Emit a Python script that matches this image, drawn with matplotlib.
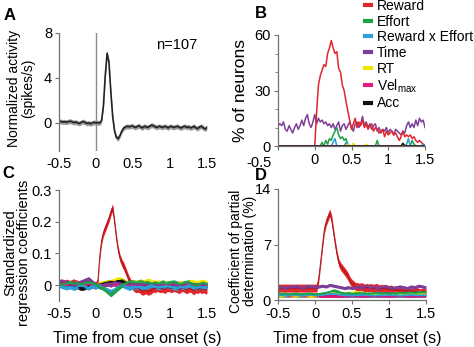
import numpy as np
import matplotlib
matplotlib.use("Agg")
import matplotlib.pyplot as plt
from matplotlib.lines import Line2D
from matplotlib.transforms import ScaledTranslation

plt.rcParams['font.family'] = ['Liberation Sans', 'DejaVu Sans']
plt.rcParams['mathtext.fontset'] = 'custom'
plt.rcParams['mathtext.rm'] = 'Liberation Sans'

# time bases (s from cue onset)
t_fine = np.arange(-0.5, 1.5001, 0.025)    # 81 samples
t_coarse = np.arange(-0.5, 1.5001, 0.05)   # 41 samples

# ---- A: normalized population activity ----
act_a = [0.10, 0.12, 0.08, 0.10, 0.05, 0.12, 0.15, 0.10, 0.02, 0.08,
         0.00, -0.05, 0.05, 0.12, 0.05, -0.05, 0.00, -0.08, 0.00, 0.05,
         0.00, 0.02, 0.00, 0.20, 1.50, 4.20, 6.20, 5.40, 2.80, 0.60,
         -0.70, -1.30, -1.40, -1.10, -0.70, -0.45, -0.35, -0.30, -0.35, -0.28,
         -0.30, -0.40, -0.35, -0.25, -0.35, -0.45, -0.30, -0.35, -0.40, -0.30,
         -0.20, -0.25, -0.35, -0.40, -0.30, -0.35, -0.40, -0.30, -0.35, -0.45,
         -0.30, -0.35, -0.40, -0.35, -0.30, -0.40, -0.45, -0.35, -0.30, -0.40,
         -0.35, -0.45, -0.40, -0.30, -0.45, -0.50, -0.35, -0.30, -0.45, -0.55,
         -0.40]
sem_a = 0.22
n_cells = 107

# ---- B: % of neurons significant for each regressor ----
labels = ['Reward', 'Effort', 'Reward x Effort', 'Time', 'RT',
          'Vel$_{\\mathrm{max}}$', 'Acc']
colors = ['#e3262b', '#1fa04a', '#2a9fd8', '#7e3f98', '#f2e600',
          '#e5197f', '#111111']

pct_reward = [0] * 20 + [
    0, 18, 33, 38, 41, 44, 43, 50, 53, 57,
    53, 50, 51, 42, 40, 33, 30, 24, 19, 14,
    9, 12, 15, 10, 13, 11, 14, 10, 12, 9,
    11, 12, 8, 10, 9, 7, 8, 9, 5, 8,
    6, 7, 8, 6, 7, 5, 3, 5, 8, 5,
    6, 5, 6, 4, 5, 3, 2, 3, 2, 1,
    0]
pct_effort = [0] * 20 + [
    0, 0, 0, 0, 2, 0, 3, 1, 4, 3,
    6, 8, 10, 6, 4, 5, 3, 4, 1, 0,
    0, 0, 0, 0, 0, 0, 0, 0, 0, 0,
    0, 0, 0, 0, 3, 0, 0, 0, 0, 0,
    0, 0, 0, 0, 0, 0, 0, 0, 0, 0,
    0, 0, 0, 3, 1, 0, 0, 0, 0, 0,
    0]
pct_rxe = [0] * 30 + [
    2, 4, 0, 0, 0, 0, 0, 2, 0, 0,
    0, 0, 0, 0, 0, 0, 0, 0, 0, 0,
    0, 0, 0, 0, 0, 0, 0, 0, 0, 0,
    0, 0, 0, 0, 0, 0, 0, 0, 0, 0,
    1, 4, 0, 0, 0, 0, 0, 0, 0, 1,
    0]
pct_time = [11, 12, 11, 13, 9, 8, 11, 9, 7, 10,
            12, 9, 11, 14, 11, 15, 17, 12, 10, 13,
            17, 12, 15, 13, 14, 12, 13, 11, 12, 10,
            12, 9, 11, 13, 8, 11, 12, 9, 11, 13,
            10, 8, 12, 13, 10, 12, 16, 11, 13, 10,
            12, 9, 11, 12, 8, 10, 7, 9, 8, 10,
            7, 9, 8, 6, 9, 8, 7, 6, 8, 7,
            11, 13, 10, 12, 10, 14, 11, 15, 13, 14,
            10]
pct_rt = [0] * 30 + [
    0, 0, 0, 0, 0, 0, 0, 0, 1, 0,
    0, 1.5, 0, 0, 0, 0, 0, 0, 1, 0,
    0, 0, 0, 0, 0, 0, 0, 0, 0, 0,
    0, 0, 0, 0, 0, 0, 0, 0, 0, 0,
    0, 0, 0, 0, 0, 0, 0, 0, 0, 0,
    0]
pct_vel = [0] * 81
pct_acc = [0] * 60 + [
    0, 0, 0, 0, 0, 0, 0, 0, 1.5, 0,
    0, 0, 0, 0, 0, 0, 0, 0, 0, 0,
    0]

# ---- C: standardized regression coefficients ----
beta_reward = [0.005, 0.008, 0.006, 0.004, 0.007, 0.005, 0.003, 0.006, 0.008, 0.005,
               0.004, 0.002, 0.005, 0.006, 0.003, 0.0, -0.003, 0.0, 0.002, 0.0,
               0.0, 0.01, 0.09, 0.14, 0.165, 0.18, 0.195, 0.21, 0.23, 0.245,
               0.2, 0.15, 0.11, 0.085, 0.07, 0.06, 0.045, 0.03, 0.015, 0.005,
               -0.005, -0.01, -0.012, -0.01, -0.015, -0.02, -0.018, -0.015, -0.02, -0.018,
               -0.015, -0.01, -0.012, -0.008, -0.01, -0.012, -0.01, -0.015, -0.01, -0.008,
               -0.01, -0.012, -0.008, -0.01, -0.012, -0.015, -0.01, -0.008, -0.012, -0.015,
               -0.012, -0.01, -0.015, -0.018, -0.012, -0.015, -0.01, -0.015, -0.012, -0.015,
               -0.015]
beta_effort = [0.005, 0.0, 0.005, 0.008, 0.005, 0.006, 0.003, 0.005, 0.008, 0.005,
               0.003, -0.005, -0.01, -0.02, -0.03, -0.02, -0.01, 0.0, 0.005, 0.01,
               0.01, 0.008, 0.012, 0.008, 0.01, 0.005, 0.008, 0.005, 0.01, 0.005,
               0.008, 0.01, 0.006, 0.004, 0.008, 0.01, 0.005, 0.0, 0.004, 0.008, 0.003]
beta_rxe = [0.0, -0.005, -0.008, -0.005, -0.01, -0.005, 0.0, -0.005, -0.008, -0.003,
            -0.005, 0.0, -0.01, -0.015, -0.02, -0.015, -0.005, 0.0, -0.005, -0.01,
            -0.005, -0.008, -0.005, -0.01, -0.005, 0.0, -0.005, -0.008, -0.005, -0.003,
            -0.005, -0.008, -0.01, -0.005, -0.008, 0.0, -0.005, -0.01, -0.005, -0.008, -0.005]
beta_time = [0.01, 0.012, 0.008, 0.005, 0.0, 0.005, 0.01, 0.015, 0.02, 0.01,
             0.0, -0.005, 0.0, 0.005, 0.0, 0.01, 0.005, 0.0, 0.005, 0.0,
             0.005, 0.0, 0.003, 0.005, 0.0, 0.002, 0.005, 0.0, 0.003, 0.0,
             0.002, 0.005, 0.0, 0.003, 0.005, 0.0, 0.002, 0.004, 0.0, 0.003, 0.002]
beta_rt = [0.0, 0.003, 0.005, 0.0, 0.002, 0.0, 0.003, 0.0, 0.002, 0.0,
           0.0, 0.005, 0.008, 0.01, 0.012, 0.015, 0.02, 0.018, 0.01, 0.005,
           0.008, 0.01, 0.012, 0.01, 0.015, 0.012, 0.008, 0.01, 0.005, 0.008,
           0.005, 0.003, 0.005, 0.008, 0.005, 0.01, 0.012, 0.008, 0.01, 0.012, 0.008]
beta_vel = [0.0, 0.002, 0.0, 0.003, 0.0, 0.002, 0.0, 0.0, 0.003, 0.0,
            0.0, 0.002, 0.0, 0.003, 0.005, 0.003, 0.0, 0.002, 0.0, 0.002,
            0.0, 0.002, 0.0, 0.003, 0.0, 0.002, 0.0, 0.003, 0.0, 0.002,
            0.0, 0.002, 0.0, 0.003, 0.0, 0.002, 0.0, 0.003, 0.0, 0.002, 0.0]
beta_acc = [0.0, 0.002, 0.0, -0.002, 0.0, -0.005, -0.01, -0.008, -0.002, 0.0,
            0.0, 0.002, 0.005, 0.008, 0.01, 0.01, 0.012, 0.015, 0.008, 0.005,
            0.0, 0.002, 0.0, 0.003, 0.0, 0.002, 0.0, 0.003, 0.0, 0.002,
            0.0, 0.002, 0.0, 0.003, 0.0, 0.002, 0.0, 0.003, 0.0, 0.002, 0.0]

# ---- D: coefficient of partial determination (%) ----
cpd_reward = [1.5] * 20 + [
    1.5, 1.5, 2.7, 4.7, 6.8, 8.8, 9.8, 10.4, 11.0, 10.2,
    8.6, 7.0, 5.6, 4.6, 4.2, 3.9, 3.6, 3.3, 2.9, 2.4,
    2.1, 1.9, 1.7, 1.7, 1.6, 1.7, 1.6, 1.5, 1.6, 1.5,
    1.6, 1.5, 1.5, 1.6, 1.5, 1.4, 1.5, 1.4, 1.5, 1.4,
    1.3, 1.4, 1.3, 1.2, 1.3, 1.2, 1.2, 1.3, 1.1, 1.2,
    1.1, 1.2, 1.0, 1.1, 1.0, 1.1, 1.0, 0.9, 1.0, 1.0,
    0.9]
cpd_effort = [0.8, 0.75, 0.8, 0.7, 0.75, 0.8, 0.7, 0.75, 0.8, 0.75,
              0.7, 0.75, 0.8, 0.9, 1.0, 1.2, 1.1, 0.9, 0.8, 0.9,
              0.8, 0.85, 0.9, 0.85, 0.8, 0.8, 0.85, 0.9, 0.8, 0.85,
              0.8, 0.85, 0.8, 0.9, 0.85, 0.9, 0.95, 0.9, 1.0, 0.95, 1.0]
cpd_rxe = [0.6, 0.6, 0.55, 0.6, 0.65, 0.6, 0.55, 0.6, 0.6, 0.65,
           0.6, 0.6, 0.65, 0.7, 0.75, 0.8, 0.7, 0.65, 0.6, 0.6,
           0.55, 0.6, 0.6, 0.65, 0.6, 0.6, 0.55, 0.6, 0.6, 0.6,
           0.65, 0.6, 0.6, 0.55, 0.6, 0.6, 0.65, 0.6, 0.6, 0.6, 0.6]
cpd_time = [1.7, 1.6, 1.5, 1.7, 1.6, 1.8, 1.6, 1.5, 1.8, 1.7,
            1.6, 1.7, 1.8, 1.7, 1.9, 1.8, 1.7, 1.6, 1.5, 1.6,
            1.5, 1.6, 1.7, 1.6, 1.8, 1.6, 1.7, 1.5, 1.6, 1.7,
            1.6, 1.5, 1.6, 1.7, 1.6, 1.5, 1.7, 1.6, 1.8, 1.7, 1.6]
cpd_rt = [0.55, 0.5, 0.55, 0.6, 0.55, 0.5, 0.55, 0.6, 0.55, 0.5,
          0.55, 0.6, 0.7, 0.8, 0.9, 0.85, 0.75, 0.7, 0.8, 0.9,
          0.9, 1.0, 0.95, 0.85, 0.8, 0.75, 0.7, 0.7, 0.75, 0.7,
          0.7, 0.75, 0.8, 0.75, 0.7, 0.7, 0.75, 0.7, 0.7, 0.75, 0.7]
cpd_vel = [0.5] * 41
cpd_acc = [0.45] * 41

W, H = 474, 347


def box(x0, y0, x1, y1):
    # pixel box (top-left origin) -> figure fraction rect
    return [x0 / W, 1 - y1 / H, (x1 - x0) / W, (y1 - y0) / H]


def fpos(x, y):
    return x / W, 1 - y / H


def style(ax, bottom=True):
    for s in ['top', 'right']:
        ax.spines[s].set_visible(False)
    ax.spines['bottom'].set_visible(bottom)
    for s in ['left', 'bottom']:
        ax.spines[s].set_color('#707070')
        ax.spines[s].set_linewidth(0.9)
    ax.tick_params(direction='out', length=3, width=0.8, color='#707070',
                   labelsize=10.5, pad=2)
    if not bottom:
        ax.tick_params(axis='x', length=0, pad=4)
    ax.set_xlim(-0.5, 1.5)
    ax.set_xticks([-0.5, 0, 0.5, 1, 1.5])
    ax.set_xticklabels(['-0.5', '0', '0.5', '1', '1.5'])


fig = plt.figure(figsize=(W / 100, H / 100), dpi=100)

# A
ax_a = fig.add_axes(box(59, 33, 207, 151))
style(ax_a, bottom=False)
act = np.array(act_a)
ax_a.axvline(0, color='#8a8a8a', lw=1.0)
ax_a.fill_between(t_fine, act - sem_a, act + sem_a, color='#9a9a9a', lw=0)
ax_a.plot(t_fine, act, color='#222222', lw=1.2)
ax_a.set_ylim(-2.5, 8)
ax_a.set_yticks([0, 4, 8])

# B
ax_b = fig.add_axes(box(278, 35, 425, 146))
style(ax_b)
pct = [pct_reward, pct_effort, pct_rxe, pct_time, pct_rt, pct_vel, pct_acc]
order_b = [3, 0, 1, 2, 4, 5, 6]
for i in order_b:
    ax_b.plot(t_fine, pct[i], color=colors[i], lw=1.1)
ax_b.set_ylim(0, 60)
ax_b.set_yticks([0, 30, 60])
ax_b.set_yticks([10, 20, 40, 50], minor=True)
ax_b.tick_params(axis='y', which='minor', length=2, color='#707070')
# the "-0.5" label sits left of its tick in the original figure
lab0 = ax_b.get_xticklabels()[0]
lab0.set_transform(lab0.get_transform() + ScaledTranslation(-0.19, -0.03, fig.dpi_scale_trans))
handles = [Line2D([], [], color=c, lw=3) for c in colors]
ax_b.legend(handles, labels, loc='upper left',
            bbox_to_anchor=fpos(365, -1), bbox_transform=fig.transFigure,
            frameon=False, fontsize=10, handlelength=0.45,
            handletextpad=0.4, labelspacing=0.12, borderpad=0,
            borderaxespad=0)

# C
ax_c = fig.add_axes(box(59, 190, 207, 301))
style(ax_c, bottom=False)
rb = np.array(beta_reward)
ax_c.fill_between(t_fine, rb - 0.012, rb + 0.012, color=colors[0], lw=0)
ax_c.plot(t_fine, rb, color='#a5141a', lw=0.7)
small_c = [beta_rt, beta_acc, beta_vel, beta_time, beta_rxe, beta_effort]
small_c_col = [colors[4], colors[6], colors[5], colors[3], colors[2], colors[1]]
for vals, c in zip(small_c, small_c_col):
    v = np.array(vals)
    ax_c.fill_between(t_coarse, v - 0.007, v + 0.007, color=c, lw=0)
    ax_c.plot(t_coarse, v, color=c, lw=1.5)
ax_c.set_ylim(-0.05, 0.3)
ax_c.set_yticks([0, 0.1, 0.2, 0.3])
ax_c.set_yticklabels(['0', '0.1', '0.2', '0.3'])

# D
ax_d = fig.add_axes(box(278, 189, 426, 300))
style(ax_d)
rd = np.array(cpd_reward)
ax_d.fill_between(t_fine, rd - 0.5, rd + 0.5, color=colors[0], lw=0)
ax_d.plot(t_fine, rd, color='#a5141a', lw=0.7)
small_d = [cpd_acc, cpd_vel, cpd_rt, cpd_rxe, cpd_effort, cpd_time]
small_d_col = [colors[6], colors[5], colors[4], colors[2], colors[1], colors[3]]
for vals, c in zip(small_d, small_d_col):
    v = np.array(vals)
    ax_d.fill_between(t_coarse, v - 0.2, v + 0.2, color=c, lw=0)
    ax_d.plot(t_coarse, v, color=c, lw=1.3)
ax_d.set_ylim(0, 14)
ax_d.set_yticks([0, 7, 14])

# text
fig.text(*fpos(177, 45), 'n=%d' % n_cells, fontsize=10.5, ha='center', va='center')
for letter, (x, y) in zip('ABCD', [(10, 15), (261, 14), (8, 173), (261, 176)]):
    fig.text(*fpos(x, y), letter, fontsize=12, fontweight='bold',
             ha='center', va='center')
fig.text(*fpos(21, 88), 'Normalized activity\n(spikes/s)', rotation=90,
         fontsize=10, ha='center', va='center', linespacing=1.0)
fig.text(*fpos(240, 90), '% of neurons', rotation=90, fontsize=12.5,
         ha='center', va='center')
fig.text(*fpos(17, 253), 'Standardized\nregression coefficients', rotation=90,
         fontsize=10.5, ha='center', va='center', linespacing=1.0)
fig.text(*fpos(243, 251), 'Coefficient of partial\ndetermination (%)',
         rotation=90, fontsize=10, ha='center', va='center', linespacing=1.0)
fig.text(*fpos(137, 338), 'Time from cue onset (s)', fontsize=11.5,
         ha='center', va='center')
fig.text(*fpos(357, 338), 'Time from cue onset (s)', fontsize=11.5,
         ha='center', va='center')

fig.savefig('out.png', dpi=100)
